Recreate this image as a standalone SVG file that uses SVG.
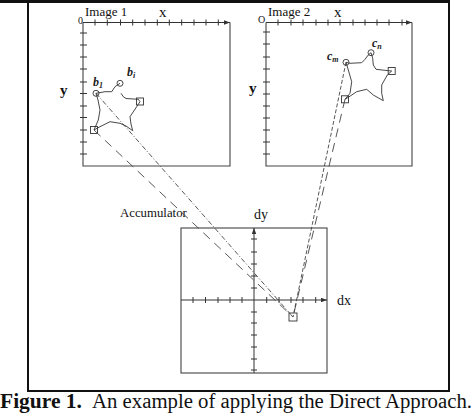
<svg xmlns="http://www.w3.org/2000/svg" width="474" height="416" viewBox="0 0 474 416">
<defs>
<style>
.frame{fill:none;stroke:#111;stroke-width:2}
.box{fill:none;stroke:#444;stroke-width:1.1}
.ax{fill:none;stroke:#333;stroke-width:1}
.tk{stroke:#333;stroke-width:1}
.shape{fill:none;stroke:#333;stroke-width:0.9}
.pt{fill:none;stroke:#333;stroke-width:0.9}
.t{font-family:"Liberation Serif",serif;fill:#111}
.lab{font-family:"Liberation Serif",serif;font-style:italic;font-weight:bold;fill:#222;font-size:12px}
.dd{fill:none;stroke:#444;stroke-width:0.9;stroke-dasharray:5,2,1,2}
.ld{fill:none;stroke:#444;stroke-width:0.9;stroke-dasharray:9,6}
.sd{fill:none;stroke:#444;stroke-width:0.9;stroke-dasharray:4,2}
</style>
<marker id="ah" viewBox="0 0 8 6" refX="8" refY="3" markerWidth="6" markerHeight="4.5" orient="auto" markerUnits="userSpaceOnUse">
<path d="M0,0 L8,3 L0,6 z" fill="#333"/>
</marker>
</defs>
<rect width="474" height="416" fill="#fff"/>
<g id="frame">
<rect x="0" y="0" width="450" height="3" fill="#111"/>
<path class="frame" d="M28,2 V391 H449 V2"/>
</g>
<g id="image1">
<path class="box" d="M83,22.5 V166 H230 V22.5"/>
<line class="ax" x1="83" y1="22.5" x2="230" y2="22.5" marker-end="url(#ah)"/>
<path class="tk" d="M95,19.5v6M107.3,19.5v6M120.5,19.5v6M132.7,19.5v6M145,19.5v6M157.3,19.5v6M169.3,19.5v6M181.7,19.5v6M194,19.5v6M206,19.5v6M218.3,19.5v6"/>
<path class="tk" d="M80,33h7M80,45h7M80,57h7M80,69h7M80,82h7M80,93.5h7M80,106h7M80,117.5h7M80,130h7M80,142h7M80,154h7"/>
<text class="t" x="78" y="24" font-size="10">0</text>
<text class="t" x="85" y="16" font-size="13">Image 1</text>
<text class="t" x="159" y="17" font-size="15">x</text>
<text class="t" x="60" y="95" font-size="15" font-weight="bold">y</text>
<path class="shape" d="M96,93.3 L105,91.7 L111.7,91.7 L115,86.7 L120,83.3 M121,93.3 L123.3,96.7 L126,98.5 L138.3,99.3 L140,101.7 L136.7,106.7 L130,116.7 L131,124 L132.7,130.7 L126,126 L120,123.3 L110,121.7 L100,126.7 L94,130 L98.3,120 L100,110 L98,100 L96,93.3"/>
<circle class="pt" cx="96" cy="93.3" r="3"/>
<circle class="pt" cx="120" cy="83.3" r="3"/>
<rect class="pt" x="136.5" y="98" width="7" height="7"/>
<rect class="pt" x="90.5" y="126.5" width="7" height="7"/>
<text class="lab" x="93" y="86">b<tspan font-size="8" dy="2">1</tspan></text>
<text class="lab" x="127" y="76">b<tspan font-size="8" dy="2">i</tspan></text>
</g>
<g id="image2">
<path class="box" d="M266,22.5 V166 H412 V22.5"/>
<line class="ax" x1="266" y1="22.5" x2="412" y2="22.5" marker-end="url(#ah)"/>
<path class="tk" d="M278,19.5v6M291,19.5v6M303,19.5v6M316,19.5v6M328,19.5v6M340,19.5v6M353,19.5v6M365,19.5v6M377,19.5v6M389,19.5v6M402,19.5v6"/>
<path class="tk" d="M263,32h7M263,44h7M263,57h7M263,69h7M263,82h7M263,94h7M263,106h7M263,118h7M263,130h7M263,142h7M263,154h7"/>
<text class="t" x="258" y="23" font-size="10">O</text>
<text class="t" x="268" y="16" font-size="13">Image 2</text>
<text class="t" x="334" y="17" font-size="15">x</text>
<text class="t" x="249" y="93" font-size="15" font-weight="bold">y</text>
<path class="shape" d="M346,62.3 L350,63.3 L361.7,62.7 L365,59.3 L368.3,55 L371,52.7 L372.7,58.3 L373.3,65 L376,69.3 L388.3,70.7 L391.7,71 L387.3,75 L381.7,85 L381.7,93.3 L383.3,100.7 L373.3,95 L366.7,89.3 L356.7,91.7 L348.3,97.3 L345,99.3 L350,93.3 L351.7,81.7 L348.3,70 L346,62.3"/>
<circle class="pt" cx="346" cy="62.3" r="3"/>
<circle class="pt" cx="371" cy="52.7" r="3"/>
<rect class="pt" x="388.2" y="67.5" width="7" height="7"/>
<rect class="pt" x="341.5" y="95.8" width="7" height="7"/>
<text class="lab" x="327" y="60">c<tspan font-size="8" dy="2">m</tspan></text>
<text class="lab" x="372" y="47">c<tspan font-size="8" dy="2">n</tspan></text>
</g>
<g id="accumulator">
<rect class="box" x="181" y="228" width="146" height="145"/>
<line class="ax" x1="254" y1="373" x2="254" y2="228" marker-end="url(#ah)"/>
<line class="ax" x1="181" y1="300" x2="327" y2="300" marker-end="url(#ah)"/>
<path class="tk" d="M193,297v6M205.5,297v6M218,297v6M230,297v6M242,297v6M266.7,297v6M279,297v6M291,297v6M303,297v6M315.7,297v6"/>
<path class="tk" d="M251,239h6M251,252h6M251,264h6M251,276h6M251,288h6M251,312h6M251,323h6M251,335h6M251,347h6M251,359h6M251,370h6"/>
<text class="t" x="120" y="217" font-size="12.8">Accumulator</text>
<text class="t" x="254" y="219" font-size="14">dy</text>
<text class="t" x="337" y="305" font-size="14">dx</text>
<rect class="pt" x="289" y="313" width="8" height="8"/>
</g>
<g id="connectors">
<line class="dd" x1="96" y1="93.3" x2="293" y2="317"/>
<line class="ld" x1="94" y1="130" x2="293" y2="317"/>
<line class="sd" x1="346" y1="62.3" x2="293" y2="317"/>
<line class="ld" x1="345" y1="99.3" x2="293" y2="317"/>
</g>
<g id="caption">
<text class="t" x="0" y="408" font-size="20" font-weight="bold" textLength="82" lengthAdjust="spacingAndGlyphs">Figure 1.</text>
<text class="t" x="92" y="408" font-size="20" textLength="380" lengthAdjust="spacingAndGlyphs">An example of applying the Direct Approach.</text>
</g>
</svg>
